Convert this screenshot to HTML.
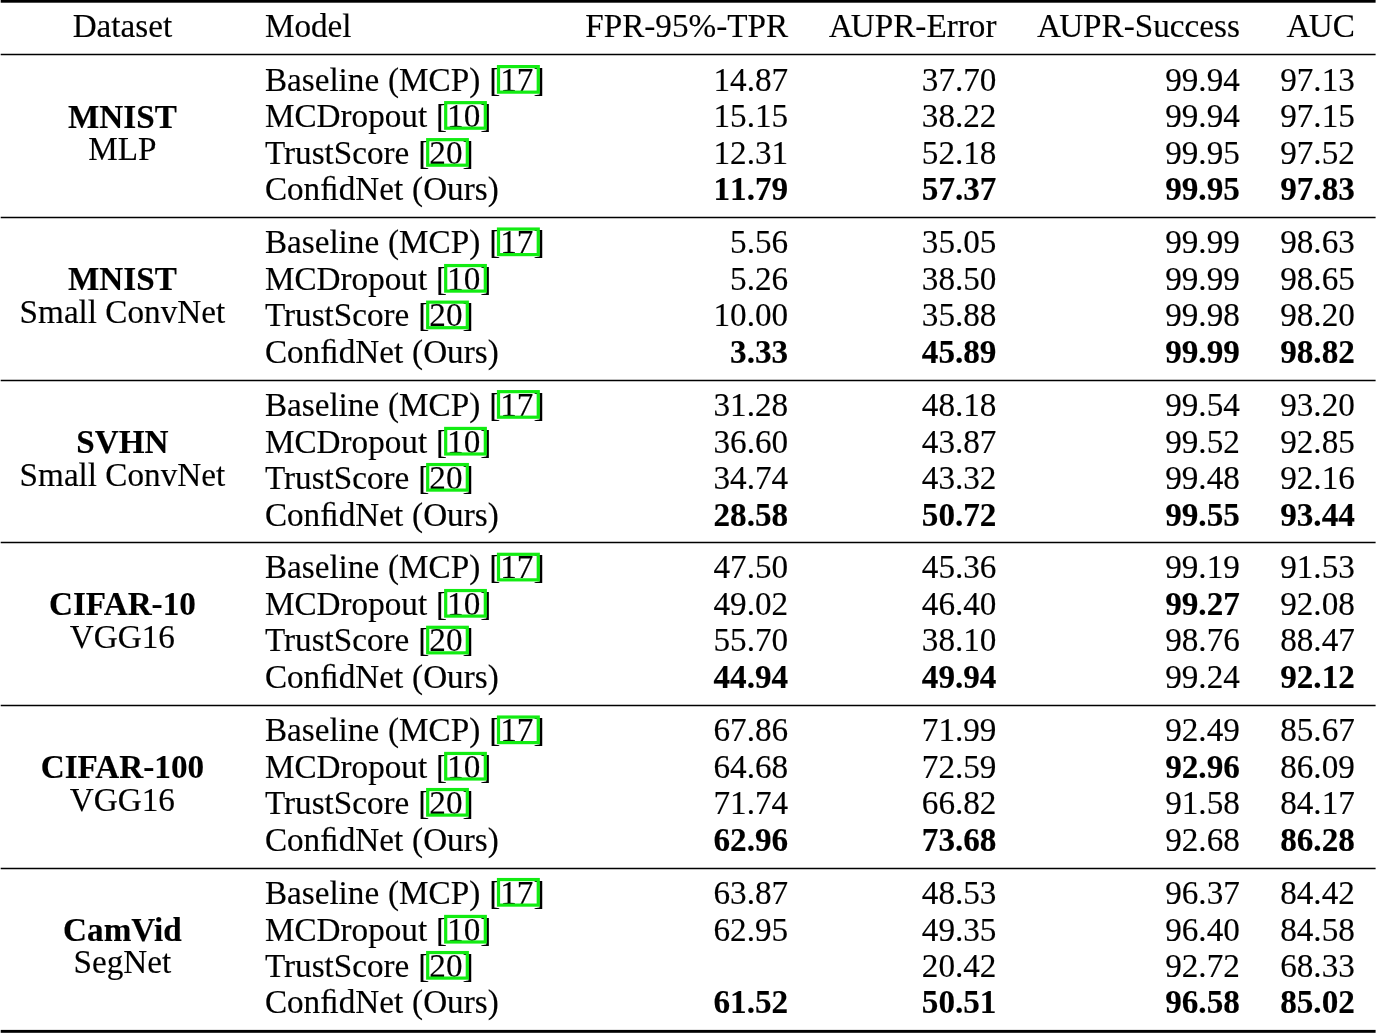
<!DOCTYPE html>
<html><head><meta charset="utf-8"><style>
html,body{margin:0;padding:0;background:#fff;}
body{width:1380px;height:1034px;position:relative;overflow:hidden;}
.t{position:absolute;font-family:"Liberation Serif",serif;font-size:33.2px;line-height:33.2px;white-space:nowrap;color:#000;-webkit-text-stroke:0.15px #000;}
.c{width:400px;text-align:center;}
.w{position:absolute;left:0;top:0;width:1380px;height:1034px;will-change:transform;}
.rs{position:absolute;left:0;top:0;}
.b{font-weight:bold;}
.n{font-kerning:none;}
.ka{letter-spacing:-1.83px;}
.r{position:absolute;left:0.8px;width:1374.8px;background:#000;}
.k{position:relative;}

</style></head><body><div class="w">
<svg class="rs" width="1380" height="1034" viewBox="0 0 1380 1034">
<rect x="0.7" y="0" width="1374.9" height="2.7" fill="#000"/>
<rect x="0.7" y="53.75" width="1374.9" height="1.5" fill="#000"/>
<rect x="0.7" y="216.75" width="1374.9" height="1.5" fill="#000"/>
<rect x="0.7" y="379.75" width="1374.9" height="1.5" fill="#000"/>
<rect x="0.7" y="541.75" width="1374.9" height="1.5" fill="#000"/>
<rect x="0.7" y="704.75" width="1374.9" height="1.5" fill="#000"/>
<rect x="0.7" y="867.75" width="1374.9" height="1.5" fill="#000"/>
<rect x="0.7" y="1029.9" width="1374.9" height="2.9" fill="#000"/>
</svg>
<div class="t c" style="left:-77.60px;top:9.20px">Dataset</div>
<div class="t" style="left:264.90px;top:9.20px">Model</div>
<div class="t" style="right:591.90px;top:9.20px">FPR-95%-TPR</div>
<div class="t" style="right:383.55px;top:9.20px"><span class="ka">A</span>UPR-Error</div>
<div class="t" style="right:140.20px;top:9.20px"><span class="ka">A</span>UPR-Success</div>
<div class="t" style="right:25.20px;top:9.20px"><span class="ka">A</span>UC</div>
<div class="t c b" style="left:-77.60px;top:99.90px">MNIST</div>
<div class="t c" style="left:-77.60px;top:131.90px">MLP</div>
<div class="t" style="left:264.90px;top:62.75px;word-spacing:0.6px">Baseline (MCP) [<span class="k">17</span>]</div>
<div class="t n" style="right:591.90px;top:62.75px">14.87</div>
<div class="t n" style="right:383.55px;top:62.75px">37.70</div>
<div class="t n" style="right:140.20px;top:62.75px">99.94</div>
<div class="t n" style="right:25.20px;top:62.75px">97.13</div>
<div class="t" style="left:264.90px;top:98.80px;word-spacing:0.6px">MCDropout [<span class="k">10</span>]</div>
<div class="t n" style="right:591.90px;top:98.80px">15.15</div>
<div class="t n" style="right:383.55px;top:98.80px">38.22</div>
<div class="t n" style="right:140.20px;top:98.80px">99.94</div>
<div class="t n" style="right:25.20px;top:98.80px">97.15</div>
<div class="t" style="left:264.90px;top:135.80px;word-spacing:0.6px">TrustScore [<span class="k">20</span>]</div>
<div class="t n" style="right:591.90px;top:135.80px">12.31</div>
<div class="t n" style="right:383.55px;top:135.80px">52.18</div>
<div class="t n" style="right:140.20px;top:135.80px">99.95</div>
<div class="t n" style="right:25.20px;top:135.80px">97.52</div>
<div class="t" style="left:264.90px;top:171.90px;word-spacing:0.6px">ConﬁdNet (Ours)</div>
<div class="t n b" style="right:591.90px;top:171.90px">11.79</div>
<div class="t n b" style="right:383.55px;top:171.90px">57.37</div>
<div class="t n b" style="right:140.20px;top:171.90px">99.95</div>
<div class="t n b" style="right:25.20px;top:171.90px">97.83</div>
<div class="t c b" style="left:-77.60px;top:261.80px">MNIST</div>
<div class="t c" style="left:-77.60px;top:294.90px">Small ConvNet</div>
<div class="t" style="left:264.90px;top:225.20px;word-spacing:0.6px">Baseline (MCP) [<span class="k">17</span>]</div>
<div class="t n" style="right:591.90px;top:225.20px">5.56</div>
<div class="t n" style="right:383.55px;top:225.20px">35.05</div>
<div class="t n" style="right:140.20px;top:225.20px">99.99</div>
<div class="t n" style="right:25.20px;top:225.20px">98.63</div>
<div class="t" style="left:264.90px;top:261.70px;word-spacing:0.6px">MCDropout [<span class="k">10</span>]</div>
<div class="t n" style="right:591.90px;top:261.70px">5.26</div>
<div class="t n" style="right:383.55px;top:261.70px">38.50</div>
<div class="t n" style="right:140.20px;top:261.70px">99.99</div>
<div class="t n" style="right:25.20px;top:261.70px">98.65</div>
<div class="t" style="left:264.90px;top:298.30px;word-spacing:0.6px">TrustScore [<span class="k">20</span>]</div>
<div class="t n" style="right:591.90px;top:298.30px">10.00</div>
<div class="t n" style="right:383.55px;top:298.30px">35.88</div>
<div class="t n" style="right:140.20px;top:298.30px">99.98</div>
<div class="t n" style="right:25.20px;top:298.30px">98.20</div>
<div class="t" style="left:264.90px;top:334.80px;word-spacing:0.6px">ConﬁdNet (Ours)</div>
<div class="t n b" style="right:591.90px;top:334.80px">3.33</div>
<div class="t n b" style="right:383.55px;top:334.80px">45.89</div>
<div class="t n b" style="right:140.20px;top:334.80px">99.99</div>
<div class="t n b" style="right:25.20px;top:334.80px">98.82</div>
<div class="t c b" style="left:-77.60px;top:424.95px">SVHN</div>
<div class="t c" style="left:-77.60px;top:457.90px">Small ConvNet</div>
<div class="t" style="left:264.90px;top:387.80px;word-spacing:0.6px">Baseline (MCP) [<span class="k">17</span>]</div>
<div class="t n" style="right:591.90px;top:387.80px">31.28</div>
<div class="t n" style="right:383.55px;top:387.80px">48.18</div>
<div class="t n" style="right:140.20px;top:387.80px">99.54</div>
<div class="t n" style="right:25.20px;top:387.80px">93.20</div>
<div class="t" style="left:264.90px;top:424.60px;word-spacing:0.6px">MCDropout [<span class="k">10</span>]</div>
<div class="t n" style="right:591.90px;top:424.60px">36.60</div>
<div class="t n" style="right:383.55px;top:424.60px">43.87</div>
<div class="t n" style="right:140.20px;top:424.60px">99.52</div>
<div class="t n" style="right:25.20px;top:424.60px">92.85</div>
<div class="t" style="left:264.90px;top:460.70px;word-spacing:0.6px">TrustScore [<span class="k">20</span>]</div>
<div class="t n" style="right:591.90px;top:460.70px">34.74</div>
<div class="t n" style="right:383.55px;top:460.70px">43.32</div>
<div class="t n" style="right:140.20px;top:460.70px">99.48</div>
<div class="t n" style="right:25.20px;top:460.70px">92.16</div>
<div class="t" style="left:264.90px;top:497.80px;word-spacing:0.6px">ConﬁdNet (Ours)</div>
<div class="t n b" style="right:591.90px;top:497.80px">28.58</div>
<div class="t n b" style="right:383.55px;top:497.80px">50.72</div>
<div class="t n b" style="right:140.20px;top:497.80px">99.55</div>
<div class="t n b" style="right:25.20px;top:497.80px">93.44</div>
<div class="t c b" style="left:-77.60px;top:587.20px">CIFAR-10</div>
<div class="t c" style="left:-77.60px;top:620.00px">VGG16</div>
<div class="t" style="left:264.90px;top:550.45px;word-spacing:0.6px">Baseline (MCP) [<span class="k">17</span>]</div>
<div class="t n" style="right:591.90px;top:550.45px">47.50</div>
<div class="t n" style="right:383.55px;top:550.45px">45.36</div>
<div class="t n" style="right:140.20px;top:550.45px">99.19</div>
<div class="t n" style="right:25.20px;top:550.45px">91.53</div>
<div class="t" style="left:264.90px;top:586.70px;word-spacing:0.6px">MCDropout [<span class="k">10</span>]</div>
<div class="t n" style="right:591.90px;top:586.70px">49.02</div>
<div class="t n" style="right:383.55px;top:586.70px">46.40</div>
<div class="t n b" style="right:140.20px;top:586.70px">99.27</div>
<div class="t n" style="right:25.20px;top:586.70px">92.08</div>
<div class="t" style="left:264.90px;top:623.45px;word-spacing:0.6px">TrustScore [<span class="k">20</span>]</div>
<div class="t n" style="right:591.90px;top:623.45px">55.70</div>
<div class="t n" style="right:383.55px;top:623.45px">38.10</div>
<div class="t n" style="right:140.20px;top:623.45px">98.76</div>
<div class="t n" style="right:25.20px;top:623.45px">88.47</div>
<div class="t" style="left:264.90px;top:659.90px;word-spacing:0.6px">ConﬁdNet (Ours)</div>
<div class="t n b" style="right:591.90px;top:659.90px">44.94</div>
<div class="t n b" style="right:383.55px;top:659.90px">49.94</div>
<div class="t n" style="right:140.20px;top:659.90px">99.24</div>
<div class="t n b" style="right:25.20px;top:659.90px">92.12</div>
<div class="t c b" style="left:-77.60px;top:749.60px">CIFAR-100</div>
<div class="t c" style="left:-77.60px;top:782.70px">VGG16</div>
<div class="t" style="left:264.90px;top:713.20px;word-spacing:0.6px">Baseline (MCP) [<span class="k">17</span>]</div>
<div class="t n" style="right:591.90px;top:713.20px">67.86</div>
<div class="t n" style="right:383.55px;top:713.20px">71.99</div>
<div class="t n" style="right:140.20px;top:713.20px">92.49</div>
<div class="t n" style="right:25.20px;top:713.20px">85.67</div>
<div class="t" style="left:264.90px;top:749.60px;word-spacing:0.6px">MCDropout [<span class="k">10</span>]</div>
<div class="t n" style="right:591.90px;top:749.60px">64.68</div>
<div class="t n" style="right:383.55px;top:749.60px">72.59</div>
<div class="t n b" style="right:140.20px;top:749.60px">92.96</div>
<div class="t n" style="right:25.20px;top:749.60px">86.09</div>
<div class="t" style="left:264.90px;top:785.70px;word-spacing:0.6px">TrustScore [<span class="k">20</span>]</div>
<div class="t n" style="right:591.90px;top:785.70px">71.74</div>
<div class="t n" style="right:383.55px;top:785.70px">66.82</div>
<div class="t n" style="right:140.20px;top:785.70px">91.58</div>
<div class="t n" style="right:25.20px;top:785.70px">84.17</div>
<div class="t" style="left:264.90px;top:822.80px;word-spacing:0.6px">ConﬁdNet (Ours)</div>
<div class="t n b" style="right:591.90px;top:822.80px">62.96</div>
<div class="t n b" style="right:383.55px;top:822.80px">73.68</div>
<div class="t n" style="right:140.20px;top:822.80px">92.68</div>
<div class="t n b" style="right:25.20px;top:822.80px">86.28</div>
<div class="t c b" style="left:-77.60px;top:912.50px">CamVid</div>
<div class="t c" style="left:-77.60px;top:945.30px">SegNet</div>
<div class="t" style="left:264.90px;top:875.70px;word-spacing:0.6px">Baseline (MCP) [<span class="k">17</span>]</div>
<div class="t n" style="right:591.90px;top:875.70px">63.87</div>
<div class="t n" style="right:383.55px;top:875.70px">48.53</div>
<div class="t n" style="right:140.20px;top:875.70px">96.37</div>
<div class="t n" style="right:25.20px;top:875.70px">84.42</div>
<div class="t" style="left:264.90px;top:912.60px;word-spacing:0.6px">MCDropout [<span class="k">10</span>]</div>
<div class="t n" style="right:591.90px;top:912.60px">62.95</div>
<div class="t n" style="right:383.55px;top:912.60px">49.35</div>
<div class="t n" style="right:140.20px;top:912.60px">96.40</div>
<div class="t n" style="right:25.20px;top:912.60px">84.58</div>
<div class="t" style="left:264.90px;top:948.70px;word-spacing:0.6px">TrustScore [<span class="k">20</span>]</div>
<div class="t n" style="right:383.55px;top:948.70px">20.42</div>
<div class="t n" style="right:140.20px;top:948.70px">92.72</div>
<div class="t n" style="right:25.20px;top:948.70px">68.33</div>
<div class="t" style="left:264.90px;top:985.10px;word-spacing:0.6px">ConﬁdNet (Ours)</div>
<div class="t n b" style="right:591.90px;top:985.10px">61.52</div>
<div class="t n b" style="right:383.55px;top:985.10px">50.51</div>
<div class="t n b" style="right:140.20px;top:985.10px">96.58</div>
<div class="t n b" style="right:25.20px;top:985.10px">85.02</div>
<svg class="rs" width="1380" height="1034" viewBox="0 0 1380 1034">
<rect x="498.50" y="66.60" width="39.75" height="25.55" fill="none" stroke="#12ec12" stroke-width="3.2"/>
<rect x="445.70" y="102.65" width="39.60" height="25.55" fill="none" stroke="#12ec12" stroke-width="3.2"/>
<rect x="427.70" y="139.65" width="39.60" height="25.55" fill="none" stroke="#12ec12" stroke-width="3.2"/>
<rect x="498.50" y="229.05" width="39.75" height="25.55" fill="none" stroke="#12ec12" stroke-width="3.2"/>
<rect x="445.70" y="265.55" width="39.60" height="25.55" fill="none" stroke="#12ec12" stroke-width="3.2"/>
<rect x="427.70" y="302.15" width="39.60" height="25.55" fill="none" stroke="#12ec12" stroke-width="3.2"/>
<rect x="498.50" y="391.65" width="39.75" height="25.55" fill="none" stroke="#12ec12" stroke-width="3.2"/>
<rect x="445.70" y="428.45" width="39.60" height="25.55" fill="none" stroke="#12ec12" stroke-width="3.2"/>
<rect x="427.70" y="464.55" width="39.60" height="25.55" fill="none" stroke="#12ec12" stroke-width="3.2"/>
<rect x="498.50" y="554.30" width="39.75" height="25.55" fill="none" stroke="#12ec12" stroke-width="3.2"/>
<rect x="445.70" y="590.55" width="39.60" height="25.55" fill="none" stroke="#12ec12" stroke-width="3.2"/>
<rect x="427.70" y="627.30" width="39.60" height="25.55" fill="none" stroke="#12ec12" stroke-width="3.2"/>
<rect x="498.50" y="717.05" width="39.75" height="25.55" fill="none" stroke="#12ec12" stroke-width="3.2"/>
<rect x="445.70" y="753.45" width="39.60" height="25.55" fill="none" stroke="#12ec12" stroke-width="3.2"/>
<rect x="427.70" y="789.55" width="39.60" height="25.55" fill="none" stroke="#12ec12" stroke-width="3.2"/>
<rect x="498.50" y="879.55" width="39.75" height="25.55" fill="none" stroke="#12ec12" stroke-width="3.2"/>
<rect x="445.70" y="916.45" width="39.60" height="25.55" fill="none" stroke="#12ec12" stroke-width="3.2"/>
<rect x="427.70" y="952.55" width="39.60" height="25.55" fill="none" stroke="#12ec12" stroke-width="3.2"/>
</svg>
</div></body></html>
